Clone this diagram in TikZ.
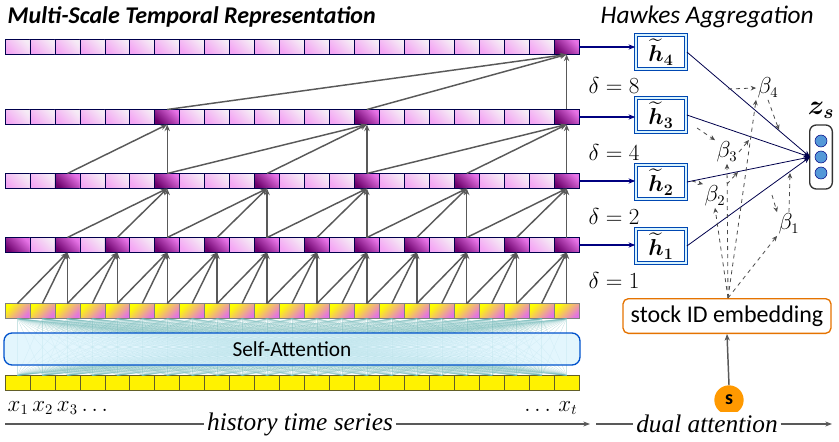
\documentclass[tikz,border=0pt]{standalone}
\usepackage{fontspec}
\setmainfont{Carlito}
\newfontfamily\serifit{Liberation Serif}
\usepackage{amsmath,bm}
\usetikzlibrary{arrows.meta}
\begin{document}
\begin{tikzpicture}[x=0.75pt,y=-0.75pt,
  cell/.style={minimum width=18.72pt,minimum height=11.25pt,inner sep=0pt,outer sep=0pt,draw=blue!30!black,line width=0.5pt},
  light/.style={cell,left color=white!92!violet,right color=violet!25!magenta!35,shading angle=-45},
  dark/.style={cell,left color=violet!35!magenta!55,right color=violet!85!black,shading angle=-45},
  mixed/.style={cell,draw=gray,left color=yellow,right color=violet!40!magenta!55,shading angle=45},
  inp/.style={cell,draw=olive!60!black,fill=yellow},
  up/.style={draw=gray!70!black,line width=1.1pt,-{Stealth[length=5pt,width=4pt]}},
  att/.style={draw=teal!60,line width=0.3pt,opacity=0.35},
  hbox/.style={draw=blue!60!cyan!70!black,double=cyan!15,double distance=1.5pt,line width=0.8pt,fill=white,minimum width=38pt,minimum height=26pt,inner sep=0pt},
  feed/.style={draw=blue!50!black,line width=1.1pt,-{Stealth[length=5pt,width=4pt]}},
  agg/.style={draw=blue!30!black,line width=0.6pt,-{Stealth[length=5pt,width=4pt]}},
  dsh/.style={draw=black!70,dashed,line width=0.6pt,-{Stealth[length=4pt,width=3.5pt]}},
  lbl/.style={font=\fontsize{16}{16}\selectfont,inner sep=1pt},
  dl/.style={anchor=west,font=\fontsize{16}{16}\selectfont,inner sep=1pt}]
\useasboundingbox (0,0) rectangle (839,442);

% titles
\node[anchor=west,font=\fontsize{18}{18}\selectfont\bfseries\itshape] at (3,17) {Multi-Scale Temporal Representation};
\node[anchor=west,font=\fontsize{19}{19}\selectfont\itshape] at (596,17) {Hawkes Aggregation};

% rows
\foreach \i in {0,...,22}{
  \pgfmathsetmacro\cx{5+24.96*(\i+0.5)}
  \node[inp] (y-\i) at (\cx,383) {};
  \node[mixed] (a-\i) at (\cx,311) {};
  \pgfmathtruncatemacro\ma{mod(\i,2)}
  \pgfmathtruncatemacro\mb{mod(\i,4)}
  \pgfmathtruncatemacro\mc{mod(\i,8)}
  \ifnum\ma=0 \node[dark] (r4-\i) at (\cx,245) {}; \else \node[light] (r4-\i) at (\cx,245) {}; \fi
  \ifnum\mb=2 \node[dark] (r3-\i) at (\cx,181) {}; \else \node[light] (r3-\i) at (\cx,181) {}; \fi
  \ifnum\mc=6 \node[dark] (r2-\i) at (\cx,117) {}; \else \node[light] (r2-\i) at (\cx,117) {}; \fi
  \ifnum\i=22 \node[dark] (r1-\i) at (\cx,47) {}; \else \node[light] (r1-\i) at (\cx,47) {}; \fi
}

% self-attention
\foreach \i in {0,...,22}{\foreach \j in {0,...,22}{\draw[att] (y-\i.north) -- (a-\j.south);}}
\node[draw=blue!60!cyan!80!black,line width=1pt,rounded corners=6pt,fill=cyan!15,fill opacity=0.75,text opacity=1,
  minimum width=432pt,minimum height=24pt,font=\fontsize{16}{16}\selectfont] (sa) at (292,349) {Self-Attention};

% dilated connections
\foreach \t in {2,4,...,22}{\foreach \s in {-2,-1,0}{\pgfmathtruncatemacro\k{\t+\s}\draw[up] (a-\k.north) -- (r4-\t.south);}}
\foreach \t in {6,10,...,22}{\foreach \s in {-4,-2,0}{\pgfmathtruncatemacro\k{\t+\s}\draw[up] (r4-\k.north) -- (r3-\t.south);}}
\foreach \s/\t in {2/6,6/6,6/14,10/14,14/14,14/22,18/22,22/22}{\draw[up] (r3-\s.north) -- (r2-\t.south);}
\foreach \s in {6,14,22}{\draw[up] (r2-\s.north) -- (r1-22.south);}

% delta labels
\node[dl] at (587,86) {$\delta = 8$};
\node[dl] at (587,153) {$\delta = 4$};
\node[dl] at (587,216) {$\delta = 2$};
\node[dl] at (587,280) {$\delta = 1$};

% h boxes
\node[hbox] (h4) at (661,52) {\fontsize{18}{18}\selectfont$\widetilde{\bm h}_{\bm 4}$};
\node[hbox] (h3) at (661,115) {\fontsize{18}{18}\selectfont$\widetilde{\bm h}_{\bm 3}$};
\node[hbox] (h2) at (661,182) {\fontsize{18}{18}\selectfont$\widetilde{\bm h}_{\bm 2}$};
\node[hbox] (h1) at (661,246) {\fontsize{18}{18}\selectfont$\widetilde{\bm h}_{\bm 1}$};
\draw[feed] (r1-22.east) -- (h4.west |- r1-22.east);
\draw[feed] (r2-22.east) -- (h3.west |- r2-22.east);
\draw[feed] (r3-22.east) -- (h2.west |- r3-22.east);
\draw[feed] (r4-22.east) -- (h1.west |- r4-22.east);

% z_s
\node[draw=black!80,line width=1pt,rounded corners=5pt,minimum width=17pt,minimum height=48pt,inner sep=0pt] (z) at (821,157) {};
\foreach \yy in {141,157,173}{\node[circle,draw=blue!50!black,fill=cyan!60!blue!70,minimum size=9pt,inner sep=0pt] at (821,\yy) {};}
\node[font=\fontsize{20}{20}\selectfont] at (821,110) {$\bm{z_s}$};
\coordinate (zin) at (810,157);
\draw[agg] (h4.east) -- (zin);
\draw[agg] (h3.east) -- (zin);
\draw[agg] (h2.east) -- (zin);
\draw[agg] (h1.east) -- (zin);

% betas
\node[lbl] (b4) at (768,88) {$\beta_4$};
\node[lbl] (b3) at (727,152) {$\beta_3$};
\node[lbl] (b2) at (715,196) {$\beta_2$};
\node[lbl] (b1) at (789,224) {$\beta_1$};
\coordinate (p4) at (728,89);
\coordinate (q4) at (779,130);
\coordinate (p3) at (697,128);
\coordinate (q3) at (749,140);
\coordinate (p2) at (692,181);
\coordinate (q2) at (738,172);
\coordinate (p1) at (772,195);
\coordinate (q1) at (790,173);
\draw[dsh] (p4) -- (b4.west);
\draw[dsh] (b4.south) -- (q4);
\draw[dsh] (p3) -- (b3.north west);
\draw[dsh] (b3.east) -- (q3);
\draw[dsh] (p2) -- (b2.north west);
\draw[dsh] (b2.north east) -- (q2);
\draw[dsh] (p1) -- (b1.north west);
\draw[dsh] (b1.north) -- (q1);

% stock embedding
\node[draw=orange!90!black,line width=1pt,rounded corners=4pt,minimum width=156pt,minimum height=26pt,font=\fontsize{18}{18}\selectfont,fill=white] (emb) at (727,316) {stock ID embedding};
\coordinate (e0) at (728,298);
\draw[dsh] (e0) -- (b2.south);
\draw[dsh] (e0) -- (b3.south);
\draw[dsh] (e0) -- (b4.south west);
\draw[dsh] (e0) -- (b1.south west);
\node[circle,fill=orange!80!yellow,minimum size=22pt,inner sep=0pt,font=\fontsize{15}{15}\selectfont\bfseries] (s) at (729,400) {s};
\draw[draw=gray!70!black,line width=1.1pt,-{Stealth[length=5pt,width=4pt]}] (s.north) -- (emb.south);

% bottom labels
\node[font=\fontsize{16}{16}\selectfont,anchor=west] at (3,408) {$x_1\,x_2\,x_3\ldots$};
\node[font=\fontsize{16}{16}\selectfont,anchor=east] at (582,408) {$\ldots\,x_t$};
\node[font=\fontsize{19}{19}\selectfont\serifit\itshape,fill=white,inner sep=2pt] (hts) at (300,424) {history time series};
\node[font=\fontsize{19}{19}\selectfont\serifit\itshape,fill=white,inner sep=2pt] (dat) at (707,424) {dual attention};
\draw[gray!70!black,line width=0.9pt] (5,424) -- (hts.west);
\draw[gray!70!black,line width=0.9pt,-{Stealth[length=5pt]}] (hts.east) -- (590,424);
\draw[gray!70!black,line width=0.9pt] (596,424) -- (dat.west);
\draw[gray!70!black,line width=0.9pt,-{Stealth[length=5pt]}] (dat.east) -- (832,424);
\end{tikzpicture}
\end{document}
